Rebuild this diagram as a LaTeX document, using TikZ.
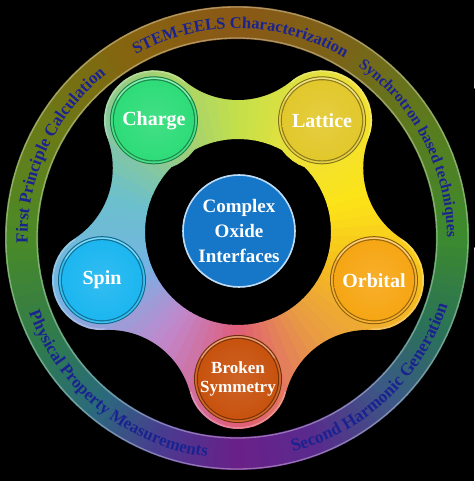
\documentclass[tikz,border=0pt]{standalone}
\usepackage{fontspec}
\setmainfont{Liberation Serif}
\usetikzlibrary{calc,decorations.text}
\definecolor{ringtext}{HTML}{1A2290}
% ring colours
\definecolor{rA}{HTML}{3C8A2E}
\definecolor{rB}{HTML}{5A7C1E}
\definecolor{rC}{HTML}{7A6418}
\definecolor{rD}{HTML}{8A5816}
\definecolor{rE}{HTML}{86640F}
\definecolor{rF}{HTML}{6A7A16}
\definecolor{rG}{HTML}{4A8A26}
\definecolor{rH}{HTML}{2E7A50}
\definecolor{rI}{HTML}{2A6A7C}
\definecolor{rJ}{HTML}{4A3A90}
\definecolor{rK}{HTML}{6A2088}
\definecolor{rL}{HTML}{5A2A8E}
\definecolor{rM}{HTML}{3A5A84}
\definecolor{rN}{HTML}{2A7258}
% blob colours
\definecolor{bA}{HTML}{F5BE1E}
\definecolor{bB}{HTML}{FCE418}
\definecolor{bC}{HTML}{EEE038}
\definecolor{bD}{HTML}{C4E04A}
\definecolor{bE}{HTML}{98CC80}
\definecolor{bF}{HTML}{6CC0CC}
\definecolor{bG}{HTML}{74B4E4}
\definecolor{bH}{HTML}{C088CC}
\definecolor{bI}{HTML}{E05C78}
\definecolor{bJ}{HTML}{E89A44}
% buttons
\definecolor{kCharge}{HTML}{2EDC78}
\definecolor{kLattice}{HTML}{E2C82C}
\definecolor{kSpin}{HTML}{1CB6F0}
\definecolor{kOrbital}{HTML}{F6A614}
\definecolor{kBroken}{HTML}{C8520E}
\definecolor{kCentre}{HTML}{1677C9}
\definecolor{kCentreRim}{HTML}{C0DCF4}

\newcommand\ringseg[4]{%
  \foreach \k in {0,...,9}{%
    \pgfmathsetmacro\angA{#1+(#2-#1)*\k/10}%
    \pgfmathsetmacro\angB{#1+(#2-#1)*(\k+1)/10+0.5}%
    \pgfmathtruncatemacro\pct{100*(\k+0.5)/10}%
    \fill[color=#4!\pct!#3] ($(R)+(\angA:232)$) arc[start angle=\angA,end angle=\angB,radius=232]
      -- ($(R)+(\angB:199)$) arc[start angle=\angB,end angle=\angA,radius=199] -- cycle;
  }}
\newcommand\blobseg[4]{%
  \foreach \k in {0,...,7}{%
    \pgfmathsetmacro\angA{#1+(#2-#1)*\k/8}%
    \pgfmathsetmacro\angB{#1+(#2-#1)*(\k+1)/8+0.6}%
    \pgfmathtruncatemacro\pct{100*(\k+0.5)/8}%
    \fill[color=#4!\pct!#3] (O) -- ($(O)+(\angA:205)$) arc[start angle=\angA,end angle=\angB,radius=205] -- cycle;
  }}
\def\ringsize{16}
\newcommand\ringfont{\fontsize{\ringsize}{\ringsize}\selectfont\bfseries\color{ringtext}}
\newcommand\cwtext[4]{%
  \def\ringsize{#2}%
  \pgfmathsetmacro\tA{#1+55}\pgfmathsetmacro\tB{#1-55}%
  \path[decorate,decoration={text along path,text align=center,text={|\ringfont|#4}}]
     ($(R)+(\tA:#3)$) arc[start angle=\tA,end angle=\tB,radius=#3];}
\newcommand\ccwtext[4]{%
  \def\ringsize{#2}%
  \pgfmathsetmacro\tA{#1-55}\pgfmathsetmacro\tB{#1+55}%
  \path[decorate,decoration={text along path,text align=center,text={|\ringfont|#4}}]
     ($(R)+(\tA:#3)$) arc[start angle=\tA,end angle=\tB,radius=#3];}
\newcommand\button[3]{%
  \fill[#2!55!black] (#1) circle[radius=#3];
  \fill[#2!88!white] (#1) circle[radius=#3-1];
  \fill[#2!62!black] (#1) circle[radius=#3-2.8];
  \shade[inner color=#2!90!white, outer color=#2] (#1) circle[radius=#3-4];
  \draw[white, opacity=0.4, line width=1.2pt] ($(#1)+(150:#3-1.9)$) arc[start angle=150,end angle=30,radius=#3-1.9];
}
\newcommand\halo[2]{%
  \pgfmathsetmacro\hA{#2-75}\pgfmathsetmacro\hB{#2+75}%
  \draw[white, opacity=0.25, line width=1.5pt] ($(#1)+(\hA:49)$) arc[start angle=\hA,end angle=\hB,radius=49];}

\tikzset{lbl/.style={text=white, font=\fontsize{20}{23}\selectfont\bfseries, align=center, inner sep=0pt}}

\begin{document}
\begin{tikzpicture}[x=1pt,y=1pt]
\useasboundingbox (0,0) rectangle (474,481);
\fill[black] (0,0) rectangle (474,481);
\coordinate (R) at (237,243);
\coordinate (O) at (238,245);
\coordinate (H) at (238,249);
\coordinate (Cc) at (239,250);
% node centres
\coordinate (nO) at ($(O)+(-18:143)$);
\coordinate (nL) at ($(O)+(54:143)$);
\coordinate (nC) at ($(O)+(126:143)$);
\coordinate (nS) at ($(O)+(198:143)$);
\coordinate (nB) at ($(O)+(270:143)$);
% cut circle centres
\coordinate (c1) at ($(O)+(18:220)$);
\coordinate (c2) at ($(O)+(90:220)$);
\coordinate (c3) at ($(O)+(162:220)$);
\coordinate (c4) at ($(O)+(234:220)$);
\coordinate (c5) at ($(O)+(306:220)$);

% ---- coloured five-lobed band ----
\begin{scope}
\clip (nO) -- (nL) -- (nC) -- (nS) -- (nB) -- cycle
  (nO) -- ($(nO)!50pt!(c1)$) -- ($(nL)!50pt!(c1)$) -- (nL) -- cycle
  (nL) -- ($(nL)!50pt!(c2)$) -- ($(nC)!50pt!(c2)$) -- (nC) -- cycle
  (nC) -- ($(nC)!50pt!(c3)$) -- ($(nS)!50pt!(c3)$) -- (nS) -- cycle
  (nS) -- ($(nS)!50pt!(c4)$) -- ($(nB)!50pt!(c4)$) -- (nB) -- cycle
  (nB) -- ($(nB)!50pt!(c5)$) -- ($(nO)!50pt!(c5)$) -- (nO) -- cycle
  (nO) circle[radius=50] (nL) circle[radius=50] (nC) circle[radius=50]
  (nS) circle[radius=50] (nB) circle[radius=50]
  ($(H)+(93,0)$) arc[start angle=0,end angle=-360,radius=93];
\blobseg{-18}{18}{bA}{bB}
\blobseg{18}{54}{bB}{bC}
\blobseg{54}{90}{bC}{bD}
\blobseg{90}{126}{bD}{bE}
\blobseg{126}{162}{bE}{bF}
\blobseg{162}{198}{bF}{bG}
\blobseg{198}{234}{bG}{bH}
\blobseg{234}{270}{bH}{bI}
\blobseg{270}{306}{bI}{bJ}
\blobseg{306}{342}{bJ}{bA}
\end{scope}
\foreach \c in {c1,c2,c3,c4,c5}{\fill[black] (\c) circle[radius=84];}

% ---- outer ring ----
\ringseg{0}{30}{rA}{rB}
\ringseg{30}{60}{rB}{rC}
\ringseg{60}{90}{rC}{rD}
\ringseg{90}{120}{rD}{rE}
\ringseg{120}{150}{rE}{rF}
\ringseg{150}{180}{rF}{rG}
\ringseg{180}{210}{rG}{rH}
\ringseg{210}{230}{rH}{rI}
\ringseg{230}{250}{rI}{rJ}
\ringseg{250}{270}{rJ}{rK}
\ringseg{270}{290}{rK}{rL}
\ringseg{290}{315}{rL}{rM}
\ringseg{315}{335}{rM}{rN}
\ringseg{335}{360}{rN}{rA}
\draw[white, opacity=0.35, line width=1.3pt] (R) circle[radius=231];
\draw[white, opacity=0.35, line width=1.3pt] (R) circle[radius=200];

% ---- ring labels ----
\cwtext{89}{16.5}{209.5}{STEM-EELS Characterization}
\cwtext{27.5}{15.5}{210}{Synchrotron based techniques}
\cwtext{155}{17}{209.5}{First Principle Calculation}
\ccwtext{231}{17}{221}{Physical Property Measurements}
\ccwtext{313.5}{17.5}{221}{Second Harmonic Generation}

% ---- buttons ----
\halo{nO}{-18}\halo{nL}{54}\halo{nC}{126}\halo{nS}{198}\halo{nB}{270}
\button{nC}{kCharge}{44}
\button{nL}{kLattice}{44}
\button{nS}{kSpin}{44}
\button{nO}{kOrbital}{44}
\button{nB}{kBroken}{44}
\fill[kCentre] (Cc) circle[radius=56.5];
\draw[kCentreRim, line width=1.6pt] (Cc) circle[radius=56];

\node[lbl] (tCharge) at (nC) {Charge};
\node[lbl] (tLattice) at (nL) {Lattice};
\node[lbl] (tSpin) at (nS) {Spin};
\node[lbl] (tOrbital) at (nO) {Orbital};
\node[lbl, font=\fontsize{17}{19}\selectfont\bfseries] (tBroken) at (nB) {Broken\\Symmetry};
\node[lbl, font=\fontsize{19}{25}\selectfont\bfseries] (tCentre) at (Cc) {Complex\\Oxide\\Interfaces};
\end{tikzpicture}
\end{document}
